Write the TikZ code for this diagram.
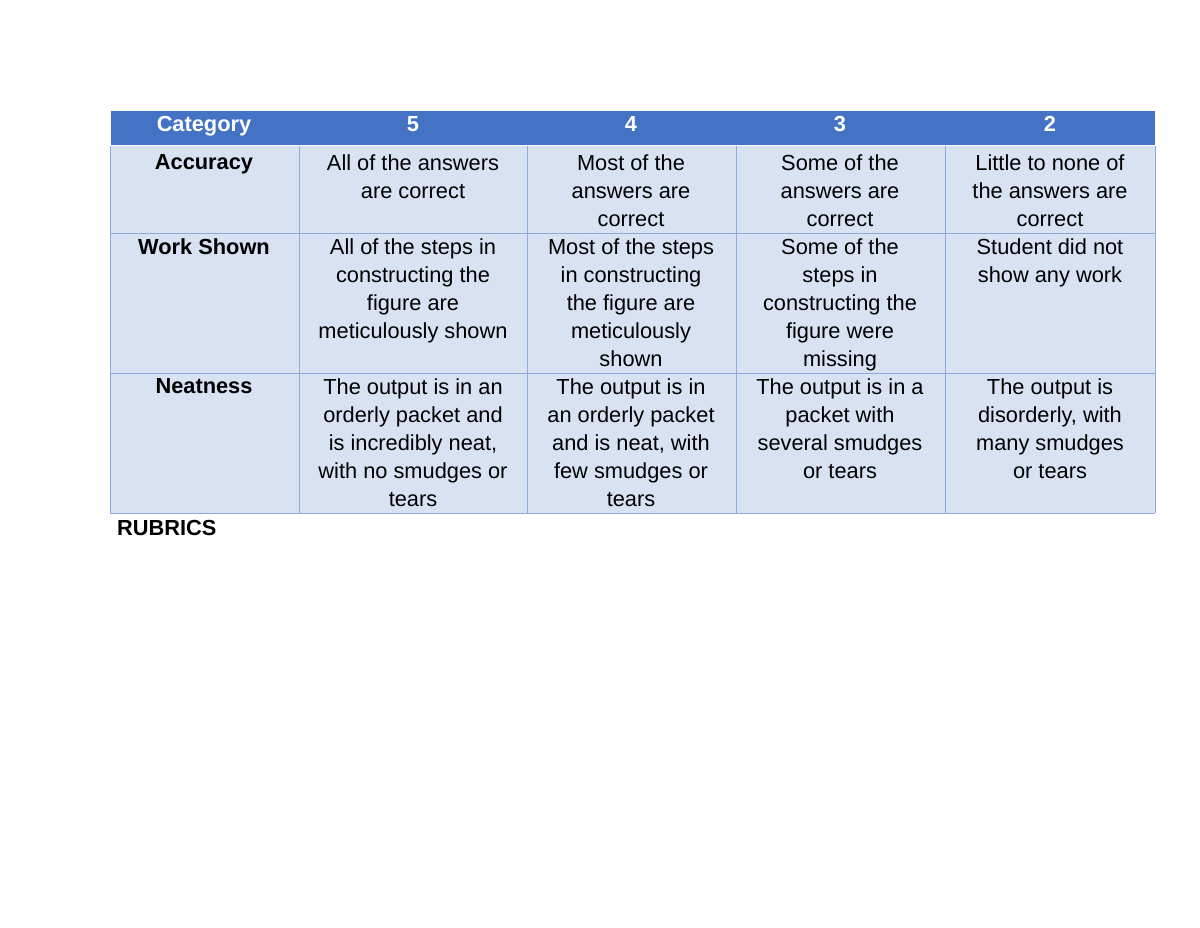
\documentclass[tikz,border=0pt]{standalone}
\usepackage{fontspec}
\setmainfont{Liberation Sans}
\definecolor{hdr}{HTML}{4472C4}
\definecolor{bodyc}{HTML}{D9E2F3}
\definecolor{grid}{HTML}{8EAADB}
\begin{document}
\begin{tikzpicture}[x=1pt,y=-1pt,
  cell/.style={anchor=north,align=center,inner sep=0pt,font=\fontsize{21.8}{28}\selectfont},
  hcell/.style={cell,text=white,font=\fontsize{21.8}{28}\selectfont\bfseries},
  bcell/.style={cell,font=\fontsize{21.8}{28}\selectfont\bfseries}]
\useasboundingbox (0,0) rectangle (1200,927);
\fill[white] (0,0) rectangle (1200,927);
\fill[hdr] (110,110) rectangle (1155,145);
\fill[bodyc] (110,145) rectangle (1155,513);
\draw[grid,line width=0.8pt] (110,145) -- (1155,145) (110,233) -- (1155,233) (110,373) -- (1155,373) (110,513) -- (1155,513)
  (110,145) -- (110,513) (1155,145) -- (1155,513);
\foreach \x in {299,527,736,945} \draw[grid,line width=0.8pt] (\x,145) -- (\x,513);
\draw[white,line width=0.8pt] (110,110) rectangle (1155,145);
% header
\node[hcell] (h0) at (204,116) {Category};
\node[hcell] (h1) at (413,116) {\vphantom{C}5};
\node[hcell] (h2) at (631,116) {\vphantom{C}4};
\node[hcell] (h3) at (840,116) {\vphantom{C}3};
\node[hcell] (h4) at (1050,116) {\vphantom{C}2};
% row 1
\node[bcell] (a0) at (204,154) {Accuracy};
\node[cell] (a1) at (413,154) {All of the answers\\are correct};
\node[cell] (a2) at (631,154) {Most of the\\answers are\\correct};
\node[cell] (a3) at (840,154) {Some of the\\answers are\\correct};
\node[cell] (a4) at (1050,154) {Little to none of\\the answers are\\correct};
% row 2
\node[bcell] (w0) at (204,238) {Work Shown};
\node[cell] (w1) at (413,238) {All of the steps in\\constructing the\\figure are\\meticulously shown};
\node[cell] (w2) at (631,238) {Most of the steps\\in constructing\\the figure are\\meticulously\\shown};
\node[cell] (w3) at (840,238) {Some of the\\steps in\\constructing the\\figure were\\missing};
\node[cell] (w4) at (1050,238) {Student did not\\show any work};
% row 3
\node[bcell] (n0) at (204,378) {Neatness};
\node[cell] (n1) at (413,378) {The output is in an\\orderly packet and\\is incredibly neat,\\with no smudges or\\tears};
\node[cell] (n2) at (631,378) {The output is in\\an orderly packet\\and is neat, with\\few smudges or\\tears};
\node[cell] (n3) at (840,378) {The output is in a\\packet with\\several smudges\\or tears};
\node[cell] (n4) at (1050,378) {The output is\\disorderly, with\\many smudges\\or tears};
\node[bcell,anchor=north west] (r) at (117,520) {RUBRICS};
\end{tikzpicture}
\end{document}
